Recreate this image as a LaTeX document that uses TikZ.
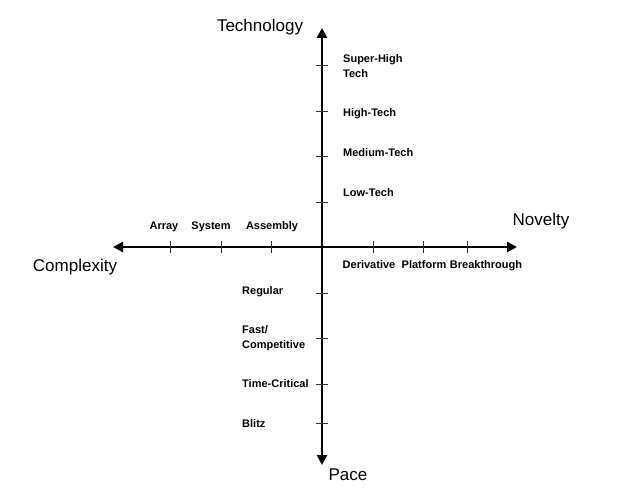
\documentclass[tikz,border=0pt]{standalone}
\usepackage{fontspec}
\setmainfont{Liberation Sans}
\usetikzlibrary{arrows.meta}
\begin{document}
\begin{tikzpicture}[x=1pt,y=-1pt,
  axis/.style={line width=2.8pt,-{Triangle[length=10pt,width=10pt]},shorten >=-2pt},
  tick/.style={line width=0.8pt,black!80},
  lblm/.style={font=\fontsize{11}{14.5}\selectfont\bfseries,inner sep=0pt,text=black,align=left},
  lbl/.style={font=\fontsize{11}{14.5}\selectfont\bfseries,inner sep=0pt,text=black,text height=8pt,text depth=2.4pt},
  ttl/.style={font=\fontsize{17}{19}\selectfont,inner sep=0pt}]
\useasboundingbox (0,0) rectangle (626,495);
\coordinate (O) at (322,247);
\coordinate (T) at (322,30);
\coordinate (P) at (322,463);
\coordinate (L) at (115,247);
\coordinate (R) at (515,247);
\draw[axis] (O) -- (T);
\draw[axis] (O) -- (P);
\draw[axis] (O) -- (L);
\draw[axis] (O) -- (R);
% ticks horizontal
\foreach \x in {170,221,271,373,423,467}
  \draw[tick] (\x,241) -- (\x,253);
% ticks vertical
\foreach \y in {65,111,156,202,293,338,384,423}
  \draw[tick] (316,\y) -- (328,\y);
% titles
\node[ttl] (tech) at (260,27) {Technology};
\node[ttl] (nov) at (541,221) {Novelty};
\node[ttl] (comp) at (75,267) {Complexity};
\node[ttl] (pace) at (348,475) {Pace};
% top labels
\node[lblm,anchor=west] (sht) at (343,66) {Super-High\\Tech};
\node[lbl,anchor=west] (ht) at (343,114) {High-Tech};
\node[lbl,anchor=west] (mt) at (343,154) {Medium-Tech};
\node[lbl,anchor=west] (lt) at (343,194) {Low-Tech};
% bottom labels
\node[lbl,anchor=west] (reg) at (242,292) {Regular};
\node[lblm,anchor=west] (fast) at (242,338) {Fast/\\Competitive};
\node[lbl,anchor=west] (tc) at (242,385) {Time-Critical};
\node[lbl,anchor=west] (bl) at (242,425) {Blitz};
% left labels
\node[lbl] (arr) at (164,227) {Array};
\node[lbl] (sys) at (211,227) {System};
\node[lbl] (ass) at (272,227) {Assembly};
% right labels
\node[lbl] (der) at (369,266) {Derivative};
\node[lbl] (plat) at (424,266) {Platform};
\node[lbl] (brk) at (486,266) {Breakthrough};
\end{tikzpicture}
\end{document}
